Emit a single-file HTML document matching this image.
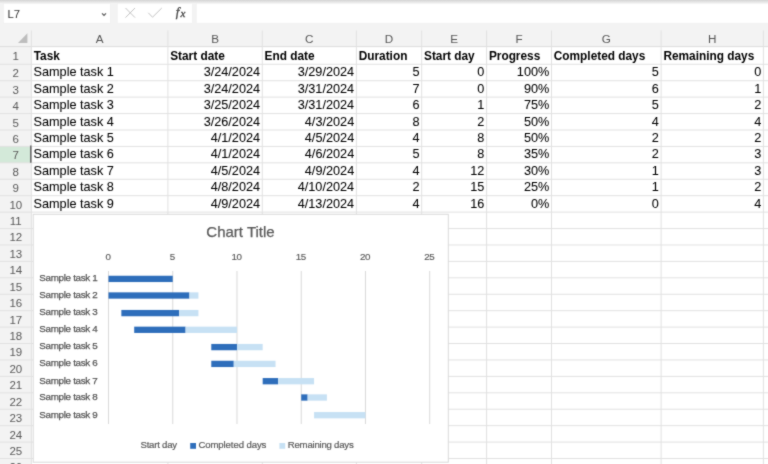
<!DOCTYPE html><html><head><meta charset="utf-8"><style>
html,body{margin:0;padding:0;background:#f3f3f3;width:768px;height:464px;overflow:hidden}
svg{display:block}
</style></head><body>
<svg width="768" height="464" viewBox="0 0 768 464" font-family='"Liberation Sans", sans-serif'>
<defs><filter id="bl" x="0" y="0" width="768" height="464" filterUnits="userSpaceOnUse" color-interpolation-filters="sRGB"><feConvolveMatrix order="3" kernelMatrix="1 3 1 3 20 3 1 3 1" divisor="36" edgeMode="duplicate"/></filter><linearGradient id="topsh" x1="0" y1="0" x2="0" y2="1"><stop offset="0" stop-color="#d4d4d4"/><stop offset="1" stop-color="#f3f3f3"/></linearGradient></defs>
<g filter="url(#bl)">
<rect x="0" y="0" width="768" height="464" fill="#f3f3f3"/>
<rect x="0" y="0" width="768" height="3.5" fill="url(#topsh)"/>
<rect x="3.5" y="3.5" width="106.8" height="19.7" fill="#fff" stroke="#eeeeee" stroke-width="0.6"/>
<text x="7.5" y="18.1" font-size="11.3" fill="#333">L7</text>
<path d="M102 13.4 L104 15.4 L106 13.4" fill="none" stroke="#555" stroke-width="1.2"/>
<rect x="117.3" y="3.5" width="75" height="19.7" fill="#fff" stroke="#f0f0f0" stroke-width="0.6"/>
<path d="M125.5 8 L135 17.6 M135 8 L125.5 17.6" stroke="#c4c4c4" stroke-width="1" fill="none"/>
<path d="M148.3 12.8 L152.5 17.2 L161.8 8" stroke="#c4c4c4" stroke-width="1" fill="none"/>
<text x="175.8" y="15.9" font-family="Liberation Serif, serif" font-style="italic" font-size="13" fill="#444" stroke="#444" stroke-width="0.3">f<tspan font-size="11" dx="1.0" dy="0.9">x</tspan></text>
<rect x="196.3" y="3.5" width="573.7" height="19.7" fill="#fff" stroke="#f0f0f0" stroke-width="0.6"/>
<rect x="31.4" y="46.6" width="736.6" height="417.4" fill="#fff"/>
<rect x="0" y="146.43" width="31.4" height="16.43" fill="#d3e9d9"/>
<line x1="0" y1="64.30" x2="768" y2="64.30" stroke="#e1e1e1" stroke-width="1"/>
<line x1="0" y1="80.72" x2="768" y2="80.72" stroke="#e1e1e1" stroke-width="1"/>
<line x1="0" y1="97.15" x2="768" y2="97.15" stroke="#e1e1e1" stroke-width="1"/>
<line x1="0" y1="113.58" x2="768" y2="113.58" stroke="#e1e1e1" stroke-width="1"/>
<line x1="0" y1="130.00" x2="768" y2="130.00" stroke="#e1e1e1" stroke-width="1"/>
<line x1="0" y1="146.43" x2="768" y2="146.43" stroke="#e1e1e1" stroke-width="1"/>
<line x1="0" y1="162.85" x2="768" y2="162.85" stroke="#e1e1e1" stroke-width="1"/>
<line x1="0" y1="179.28" x2="768" y2="179.28" stroke="#e1e1e1" stroke-width="1"/>
<line x1="0" y1="195.70" x2="768" y2="195.70" stroke="#e1e1e1" stroke-width="1"/>
<line x1="0" y1="212.12" x2="768" y2="212.12" stroke="#e1e1e1" stroke-width="1"/>
<line x1="0" y1="228.55" x2="768" y2="228.55" stroke="#e1e1e1" stroke-width="1"/>
<line x1="0" y1="244.98" x2="768" y2="244.98" stroke="#e1e1e1" stroke-width="1"/>
<line x1="0" y1="261.40" x2="768" y2="261.40" stroke="#e1e1e1" stroke-width="1"/>
<line x1="0" y1="277.82" x2="768" y2="277.82" stroke="#e1e1e1" stroke-width="1"/>
<line x1="0" y1="294.25" x2="768" y2="294.25" stroke="#e1e1e1" stroke-width="1"/>
<line x1="0" y1="310.68" x2="768" y2="310.68" stroke="#e1e1e1" stroke-width="1"/>
<line x1="0" y1="327.10" x2="768" y2="327.10" stroke="#e1e1e1" stroke-width="1"/>
<line x1="0" y1="343.53" x2="768" y2="343.53" stroke="#e1e1e1" stroke-width="1"/>
<line x1="0" y1="359.95" x2="768" y2="359.95" stroke="#e1e1e1" stroke-width="1"/>
<line x1="0" y1="376.38" x2="768" y2="376.38" stroke="#e1e1e1" stroke-width="1"/>
<line x1="0" y1="392.80" x2="768" y2="392.80" stroke="#e1e1e1" stroke-width="1"/>
<line x1="0" y1="409.23" x2="768" y2="409.23" stroke="#e1e1e1" stroke-width="1"/>
<line x1="0" y1="425.65" x2="768" y2="425.65" stroke="#e1e1e1" stroke-width="1"/>
<line x1="0" y1="442.08" x2="768" y2="442.08" stroke="#e1e1e1" stroke-width="1"/>
<line x1="0" y1="458.50" x2="768" y2="458.50" stroke="#e1e1e1" stroke-width="1"/>
<line x1="0" y1="46.6" x2="768" y2="46.6" stroke="#dcdcdc" stroke-width="1"/>
<line x1="31.4" y1="30.5" x2="31.4" y2="464" stroke="#e1e1e1" stroke-width="1"/>
<line x1="167.9" y1="30.5" x2="167.9" y2="464" stroke="#e1e1e1" stroke-width="1"/>
<line x1="262.3" y1="30.5" x2="262.3" y2="464" stroke="#e1e1e1" stroke-width="1"/>
<line x1="356.4" y1="30.5" x2="356.4" y2="464" stroke="#e1e1e1" stroke-width="1"/>
<line x1="421.7" y1="30.5" x2="421.7" y2="464" stroke="#e1e1e1" stroke-width="1"/>
<line x1="486.6" y1="30.5" x2="486.6" y2="464" stroke="#e1e1e1" stroke-width="1"/>
<line x1="551.5" y1="30.5" x2="551.5" y2="464" stroke="#e1e1e1" stroke-width="1"/>
<line x1="661.1" y1="30.5" x2="661.1" y2="464" stroke="#e1e1e1" stroke-width="1"/>
<line x1="763.4" y1="30.5" x2="763.4" y2="464" stroke="#e1e1e1" stroke-width="1"/>
<line x1="30.8" y1="145.43" x2="30.8" y2="162.85" stroke="#6b6b6b" stroke-width="1.6"/>
<path d="M27.4 33.3 L27.4 43.1 L18 43.1 Z" fill="#bdbdbd"/>
<text x="99.65" y="42.6" font-size="11.7" fill="#555" text-anchor="middle">A</text>
<text x="215.10" y="42.6" font-size="11.7" fill="#555" text-anchor="middle">B</text>
<text x="309.35" y="42.6" font-size="11.7" fill="#555" text-anchor="middle">C</text>
<text x="389.05" y="42.6" font-size="11.7" fill="#555" text-anchor="middle">D</text>
<text x="454.15" y="42.6" font-size="11.7" fill="#555" text-anchor="middle">E</text>
<text x="519.05" y="42.6" font-size="11.7" fill="#555" text-anchor="middle">F</text>
<text x="606.30" y="42.6" font-size="11.7" fill="#555" text-anchor="middle">G</text>
<text x="712.25" y="42.6" font-size="11.7" fill="#555" text-anchor="middle">H</text>
<text x="15.8" y="59.90" font-size="11.5" fill="#585858" text-anchor="middle">1</text>
<text x="15.8" y="77.22" font-size="11.5" fill="#585858" text-anchor="middle">2</text>
<text x="15.8" y="93.65" font-size="11.5" fill="#585858" text-anchor="middle">3</text>
<text x="15.8" y="110.08" font-size="11.5" fill="#585858" text-anchor="middle">4</text>
<text x="15.8" y="126.50" font-size="11.5" fill="#585858" text-anchor="middle">5</text>
<text x="15.8" y="142.93" font-size="11.5" fill="#585858" text-anchor="middle">6</text>
<text x="15.8" y="159.35" font-size="11.5" fill="#585858" text-anchor="middle">7</text>
<text x="15.8" y="175.78" font-size="11.5" fill="#585858" text-anchor="middle">8</text>
<text x="15.8" y="192.20" font-size="11.5" fill="#585858" text-anchor="middle">9</text>
<text x="15.8" y="208.62" font-size="11.5" fill="#585858" text-anchor="middle">10</text>
<text x="15.8" y="225.05" font-size="11.5" fill="#585858" text-anchor="middle">11</text>
<text x="15.8" y="241.48" font-size="11.5" fill="#585858" text-anchor="middle">12</text>
<text x="15.8" y="257.90" font-size="11.5" fill="#585858" text-anchor="middle">13</text>
<text x="15.8" y="274.32" font-size="11.5" fill="#585858" text-anchor="middle">14</text>
<text x="15.8" y="290.75" font-size="11.5" fill="#585858" text-anchor="middle">15</text>
<text x="15.8" y="307.18" font-size="11.5" fill="#585858" text-anchor="middle">16</text>
<text x="15.8" y="323.60" font-size="11.5" fill="#585858" text-anchor="middle">17</text>
<text x="15.8" y="340.03" font-size="11.5" fill="#585858" text-anchor="middle">18</text>
<text x="15.8" y="356.45" font-size="11.5" fill="#585858" text-anchor="middle">19</text>
<text x="15.8" y="372.88" font-size="11.5" fill="#585858" text-anchor="middle">20</text>
<text x="15.8" y="389.30" font-size="11.5" fill="#585858" text-anchor="middle">21</text>
<text x="15.8" y="405.73" font-size="11.5" fill="#585858" text-anchor="middle">22</text>
<text x="15.8" y="422.15" font-size="11.5" fill="#585858" text-anchor="middle">23</text>
<text x="15.8" y="438.58" font-size="11.5" fill="#585858" text-anchor="middle">24</text>
<text x="15.8" y="455.00" font-size="11.5" fill="#585858" text-anchor="middle">25</text>
<text x="15.8" y="471.43" font-size="11.5" fill="#585858" text-anchor="middle">26</text>
<text x="33.70" y="60.20" font-size="11.85" font-weight="bold" fill="#000">Task</text>
<text x="170.20" y="60.20" font-size="11.85" font-weight="bold" fill="#000">Start date</text>
<text x="264.60" y="60.20" font-size="11.85" font-weight="bold" fill="#000">End date</text>
<text x="358.70" y="60.20" font-size="11.85" font-weight="bold" fill="#000">Duration</text>
<text x="424.00" y="60.20" font-size="11.85" font-weight="bold" fill="#000">Start day</text>
<text x="488.90" y="60.20" font-size="11.85" font-weight="bold" fill="#000">Progress</text>
<text x="553.80" y="60.20" font-size="11.85" font-weight="bold" fill="#000">Completed days</text>
<text x="663.40" y="60.20" font-size="11.85" font-weight="bold" fill="#000">Remaining days</text>
<text x="33.50" y="76.27" font-size="12.7" fill="#000" stroke="#000" stroke-width="0.05">Sample task 1</text>
<text x="260.10" y="76.27" font-size="12.7" fill="#000" stroke="#000" stroke-width="0.05" text-anchor="end">3/24/2024</text>
<text x="354.20" y="76.27" font-size="12.7" fill="#000" stroke="#000" stroke-width="0.05" text-anchor="end">3/29/2024</text>
<text x="419.50" y="76.27" font-size="12.7" fill="#000" stroke="#000" stroke-width="0.05" text-anchor="end">5</text>
<text x="484.40" y="76.27" font-size="12.7" fill="#000" stroke="#000" stroke-width="0.05" text-anchor="end">0</text>
<text x="549.30" y="76.27" font-size="12.7" fill="#000" stroke="#000" stroke-width="0.05" text-anchor="end">100%</text>
<text x="658.90" y="76.27" font-size="12.7" fill="#000" stroke="#000" stroke-width="0.05" text-anchor="end">5</text>
<text x="761.20" y="76.27" font-size="12.7" fill="#000" stroke="#000" stroke-width="0.05" text-anchor="end">0</text>
<text x="33.50" y="92.70" font-size="12.7" fill="#000" stroke="#000" stroke-width="0.05">Sample task 2</text>
<text x="260.10" y="92.70" font-size="12.7" fill="#000" stroke="#000" stroke-width="0.05" text-anchor="end">3/24/2024</text>
<text x="354.20" y="92.70" font-size="12.7" fill="#000" stroke="#000" stroke-width="0.05" text-anchor="end">3/31/2024</text>
<text x="419.50" y="92.70" font-size="12.7" fill="#000" stroke="#000" stroke-width="0.05" text-anchor="end">7</text>
<text x="484.40" y="92.70" font-size="12.7" fill="#000" stroke="#000" stroke-width="0.05" text-anchor="end">0</text>
<text x="549.30" y="92.70" font-size="12.7" fill="#000" stroke="#000" stroke-width="0.05" text-anchor="end">90%</text>
<text x="658.90" y="92.70" font-size="12.7" fill="#000" stroke="#000" stroke-width="0.05" text-anchor="end">6</text>
<text x="761.20" y="92.70" font-size="12.7" fill="#000" stroke="#000" stroke-width="0.05" text-anchor="end">1</text>
<text x="33.50" y="109.12" font-size="12.7" fill="#000" stroke="#000" stroke-width="0.05">Sample task 3</text>
<text x="260.10" y="109.12" font-size="12.7" fill="#000" stroke="#000" stroke-width="0.05" text-anchor="end">3/25/2024</text>
<text x="354.20" y="109.12" font-size="12.7" fill="#000" stroke="#000" stroke-width="0.05" text-anchor="end">3/31/2024</text>
<text x="419.50" y="109.12" font-size="12.7" fill="#000" stroke="#000" stroke-width="0.05" text-anchor="end">6</text>
<text x="484.40" y="109.12" font-size="12.7" fill="#000" stroke="#000" stroke-width="0.05" text-anchor="end">1</text>
<text x="549.30" y="109.12" font-size="12.7" fill="#000" stroke="#000" stroke-width="0.05" text-anchor="end">75%</text>
<text x="658.90" y="109.12" font-size="12.7" fill="#000" stroke="#000" stroke-width="0.05" text-anchor="end">5</text>
<text x="761.20" y="109.12" font-size="12.7" fill="#000" stroke="#000" stroke-width="0.05" text-anchor="end">2</text>
<text x="33.50" y="125.55" font-size="12.7" fill="#000" stroke="#000" stroke-width="0.05">Sample task 4</text>
<text x="260.10" y="125.55" font-size="12.7" fill="#000" stroke="#000" stroke-width="0.05" text-anchor="end">3/26/2024</text>
<text x="354.20" y="125.55" font-size="12.7" fill="#000" stroke="#000" stroke-width="0.05" text-anchor="end">4/3/2024</text>
<text x="419.50" y="125.55" font-size="12.7" fill="#000" stroke="#000" stroke-width="0.05" text-anchor="end">8</text>
<text x="484.40" y="125.55" font-size="12.7" fill="#000" stroke="#000" stroke-width="0.05" text-anchor="end">2</text>
<text x="549.30" y="125.55" font-size="12.7" fill="#000" stroke="#000" stroke-width="0.05" text-anchor="end">50%</text>
<text x="658.90" y="125.55" font-size="12.7" fill="#000" stroke="#000" stroke-width="0.05" text-anchor="end">4</text>
<text x="761.20" y="125.55" font-size="12.7" fill="#000" stroke="#000" stroke-width="0.05" text-anchor="end">4</text>
<text x="33.50" y="141.98" font-size="12.7" fill="#000" stroke="#000" stroke-width="0.05">Sample task 5</text>
<text x="260.10" y="141.98" font-size="12.7" fill="#000" stroke="#000" stroke-width="0.05" text-anchor="end">4/1/2024</text>
<text x="354.20" y="141.98" font-size="12.7" fill="#000" stroke="#000" stroke-width="0.05" text-anchor="end">4/5/2024</text>
<text x="419.50" y="141.98" font-size="12.7" fill="#000" stroke="#000" stroke-width="0.05" text-anchor="end">4</text>
<text x="484.40" y="141.98" font-size="12.7" fill="#000" stroke="#000" stroke-width="0.05" text-anchor="end">8</text>
<text x="549.30" y="141.98" font-size="12.7" fill="#000" stroke="#000" stroke-width="0.05" text-anchor="end">50%</text>
<text x="658.90" y="141.98" font-size="12.7" fill="#000" stroke="#000" stroke-width="0.05" text-anchor="end">2</text>
<text x="761.20" y="141.98" font-size="12.7" fill="#000" stroke="#000" stroke-width="0.05" text-anchor="end">2</text>
<text x="33.50" y="158.40" font-size="12.7" fill="#000" stroke="#000" stroke-width="0.05">Sample task 6</text>
<text x="260.10" y="158.40" font-size="12.7" fill="#000" stroke="#000" stroke-width="0.05" text-anchor="end">4/1/2024</text>
<text x="354.20" y="158.40" font-size="12.7" fill="#000" stroke="#000" stroke-width="0.05" text-anchor="end">4/6/2024</text>
<text x="419.50" y="158.40" font-size="12.7" fill="#000" stroke="#000" stroke-width="0.05" text-anchor="end">5</text>
<text x="484.40" y="158.40" font-size="12.7" fill="#000" stroke="#000" stroke-width="0.05" text-anchor="end">8</text>
<text x="549.30" y="158.40" font-size="12.7" fill="#000" stroke="#000" stroke-width="0.05" text-anchor="end">35%</text>
<text x="658.90" y="158.40" font-size="12.7" fill="#000" stroke="#000" stroke-width="0.05" text-anchor="end">2</text>
<text x="761.20" y="158.40" font-size="12.7" fill="#000" stroke="#000" stroke-width="0.05" text-anchor="end">3</text>
<text x="33.50" y="174.83" font-size="12.7" fill="#000" stroke="#000" stroke-width="0.05">Sample task 7</text>
<text x="260.10" y="174.83" font-size="12.7" fill="#000" stroke="#000" stroke-width="0.05" text-anchor="end">4/5/2024</text>
<text x="354.20" y="174.83" font-size="12.7" fill="#000" stroke="#000" stroke-width="0.05" text-anchor="end">4/9/2024</text>
<text x="419.50" y="174.83" font-size="12.7" fill="#000" stroke="#000" stroke-width="0.05" text-anchor="end">4</text>
<text x="484.40" y="174.83" font-size="12.7" fill="#000" stroke="#000" stroke-width="0.05" text-anchor="end">12</text>
<text x="549.30" y="174.83" font-size="12.7" fill="#000" stroke="#000" stroke-width="0.05" text-anchor="end">30%</text>
<text x="658.90" y="174.83" font-size="12.7" fill="#000" stroke="#000" stroke-width="0.05" text-anchor="end">1</text>
<text x="761.20" y="174.83" font-size="12.7" fill="#000" stroke="#000" stroke-width="0.05" text-anchor="end">3</text>
<text x="33.50" y="191.25" font-size="12.7" fill="#000" stroke="#000" stroke-width="0.05">Sample task 8</text>
<text x="260.10" y="191.25" font-size="12.7" fill="#000" stroke="#000" stroke-width="0.05" text-anchor="end">4/8/2024</text>
<text x="354.20" y="191.25" font-size="12.7" fill="#000" stroke="#000" stroke-width="0.05" text-anchor="end">4/10/2024</text>
<text x="419.50" y="191.25" font-size="12.7" fill="#000" stroke="#000" stroke-width="0.05" text-anchor="end">2</text>
<text x="484.40" y="191.25" font-size="12.7" fill="#000" stroke="#000" stroke-width="0.05" text-anchor="end">15</text>
<text x="549.30" y="191.25" font-size="12.7" fill="#000" stroke="#000" stroke-width="0.05" text-anchor="end">25%</text>
<text x="658.90" y="191.25" font-size="12.7" fill="#000" stroke="#000" stroke-width="0.05" text-anchor="end">1</text>
<text x="761.20" y="191.25" font-size="12.7" fill="#000" stroke="#000" stroke-width="0.05" text-anchor="end">2</text>
<text x="33.50" y="207.68" font-size="12.7" fill="#000" stroke="#000" stroke-width="0.05">Sample task 9</text>
<text x="260.10" y="207.68" font-size="12.7" fill="#000" stroke="#000" stroke-width="0.05" text-anchor="end">4/9/2024</text>
<text x="354.20" y="207.68" font-size="12.7" fill="#000" stroke="#000" stroke-width="0.05" text-anchor="end">4/13/2024</text>
<text x="419.50" y="207.68" font-size="12.7" fill="#000" stroke="#000" stroke-width="0.05" text-anchor="end">4</text>
<text x="484.40" y="207.68" font-size="12.7" fill="#000" stroke="#000" stroke-width="0.05" text-anchor="end">16</text>
<text x="549.30" y="207.68" font-size="12.7" fill="#000" stroke="#000" stroke-width="0.05" text-anchor="end">0%</text>
<text x="658.90" y="207.68" font-size="12.7" fill="#000" stroke="#000" stroke-width="0.05" text-anchor="end">0</text>
<text x="761.20" y="207.68" font-size="12.7" fill="#000" stroke="#000" stroke-width="0.05" text-anchor="end">4</text>
<rect x="33.2" y="214.3" width="415.1" height="247.89999999999998" fill="#fff" stroke="#d9d9d9" stroke-width="1"/>
<text x="240.5" y="237.1" font-size="15" fill="#595959" stroke="#595959" stroke-width="0.25" text-anchor="middle" letter-spacing="0">Chart Title</text>
<line x1="108.50" y1="271" x2="108.50" y2="424" stroke="#d9d9d9" stroke-width="1"/>
<text x="108.10" y="259.5" font-size="9.8" fill="#595959" stroke="#595959" stroke-width="0.15" text-anchor="middle" letter-spacing="-0.3">0</text>
<line x1="172.74" y1="271" x2="172.74" y2="424" stroke="#d9d9d9" stroke-width="1"/>
<text x="172.34" y="259.5" font-size="9.8" fill="#595959" stroke="#595959" stroke-width="0.15" text-anchor="middle" letter-spacing="-0.3">5</text>
<line x1="236.98" y1="271" x2="236.98" y2="424" stroke="#d9d9d9" stroke-width="1"/>
<text x="236.58" y="259.5" font-size="9.8" fill="#595959" stroke="#595959" stroke-width="0.15" text-anchor="middle" letter-spacing="-0.3">10</text>
<line x1="301.22" y1="271" x2="301.22" y2="424" stroke="#d9d9d9" stroke-width="1"/>
<text x="300.82" y="259.5" font-size="9.8" fill="#595959" stroke="#595959" stroke-width="0.15" text-anchor="middle" letter-spacing="-0.3">15</text>
<line x1="365.46" y1="271" x2="365.46" y2="424" stroke="#d9d9d9" stroke-width="1"/>
<text x="365.06" y="259.5" font-size="9.8" fill="#595959" stroke="#595959" stroke-width="0.15" text-anchor="middle" letter-spacing="-0.3">20</text>
<line x1="429.70" y1="271" x2="429.70" y2="424" stroke="#d9d9d9" stroke-width="1"/>
<text x="429.30" y="259.5" font-size="9.8" fill="#595959" stroke="#595959" stroke-width="0.15" text-anchor="middle" letter-spacing="-0.3">25</text>
<rect x="108.50" y="275.75" width="64.24" height="6.3" fill="#2e6ebb"/>
<text x="97.5" y="281.20" font-size="9.8" fill="#555" stroke="#555" stroke-width="0.25" text-anchor="end" letter-spacing="-0.3">Sample task 1</text>
<rect x="108.50" y="292.35" width="80.94" height="6.3" fill="#2e6ebb"/>
<rect x="189.44" y="292.35" width="8.99" height="6.3" fill="#c7e1f4"/>
<text x="97.5" y="297.80" font-size="9.8" fill="#555" stroke="#555" stroke-width="0.25" text-anchor="end" letter-spacing="-0.3">Sample task 2</text>
<rect x="121.35" y="309.95" width="57.82" height="6.3" fill="#2e6ebb"/>
<rect x="179.16" y="309.95" width="19.27" height="6.3" fill="#c7e1f4"/>
<text x="97.5" y="315.40" font-size="9.8" fill="#555" stroke="#555" stroke-width="0.25" text-anchor="end" letter-spacing="-0.3">Sample task 3</text>
<rect x="134.20" y="326.65" width="51.39" height="6.3" fill="#2e6ebb"/>
<rect x="185.59" y="326.65" width="51.39" height="6.3" fill="#c7e1f4"/>
<text x="97.5" y="332.10" font-size="9.8" fill="#555" stroke="#555" stroke-width="0.25" text-anchor="end" letter-spacing="-0.3">Sample task 4</text>
<rect x="211.28" y="343.95" width="25.70" height="6.3" fill="#2e6ebb"/>
<rect x="236.98" y="343.95" width="25.70" height="6.3" fill="#c7e1f4"/>
<text x="97.5" y="349.40" font-size="9.8" fill="#555" stroke="#555" stroke-width="0.25" text-anchor="end" letter-spacing="-0.3">Sample task 5</text>
<rect x="211.28" y="360.75" width="22.48" height="6.3" fill="#2e6ebb"/>
<rect x="233.77" y="360.75" width="41.76" height="6.3" fill="#c7e1f4"/>
<text x="97.5" y="366.20" font-size="9.8" fill="#555" stroke="#555" stroke-width="0.25" text-anchor="end" letter-spacing="-0.3">Sample task 6</text>
<rect x="262.68" y="378.05" width="15.42" height="6.3" fill="#2e6ebb"/>
<rect x="278.09" y="378.05" width="35.97" height="6.3" fill="#c7e1f4"/>
<text x="97.5" y="383.50" font-size="9.8" fill="#555" stroke="#555" stroke-width="0.25" text-anchor="end" letter-spacing="-0.3">Sample task 7</text>
<rect x="301.22" y="394.35" width="6.42" height="6.3" fill="#2e6ebb"/>
<rect x="307.64" y="394.35" width="19.27" height="6.3" fill="#c7e1f4"/>
<text x="97.5" y="399.80" font-size="9.8" fill="#555" stroke="#555" stroke-width="0.25" text-anchor="end" letter-spacing="-0.3">Sample task 8</text>
<rect x="314.07" y="412.05" width="51.39" height="6.3" fill="#c7e1f4"/>
<text x="97.5" y="417.50" font-size="9.8" fill="#555" stroke="#555" stroke-width="0.25" text-anchor="end" letter-spacing="-0.3">Sample task 9</text>
<text x="140.5" y="448.1" font-size="9.6" fill="#595959" stroke="#595959" stroke-width="0.2" letter-spacing="-0.22">Start day</text>
<rect x="190.2" y="443" width="5.8" height="5.8" fill="#2e6ebb"/>
<text x="198.4" y="448.1" font-size="9.6" fill="#595959" stroke="#595959" stroke-width="0.2" letter-spacing="-0.1">Completed days</text>
<rect x="279.4" y="443" width="5.8" height="5.8" fill="#c7e1f4"/>
<text x="287.8" y="448.1" font-size="9.6" fill="#595959" stroke="#595959" stroke-width="0.2" letter-spacing="-0.22">Remaining days</text>
</g></svg></body></html>
